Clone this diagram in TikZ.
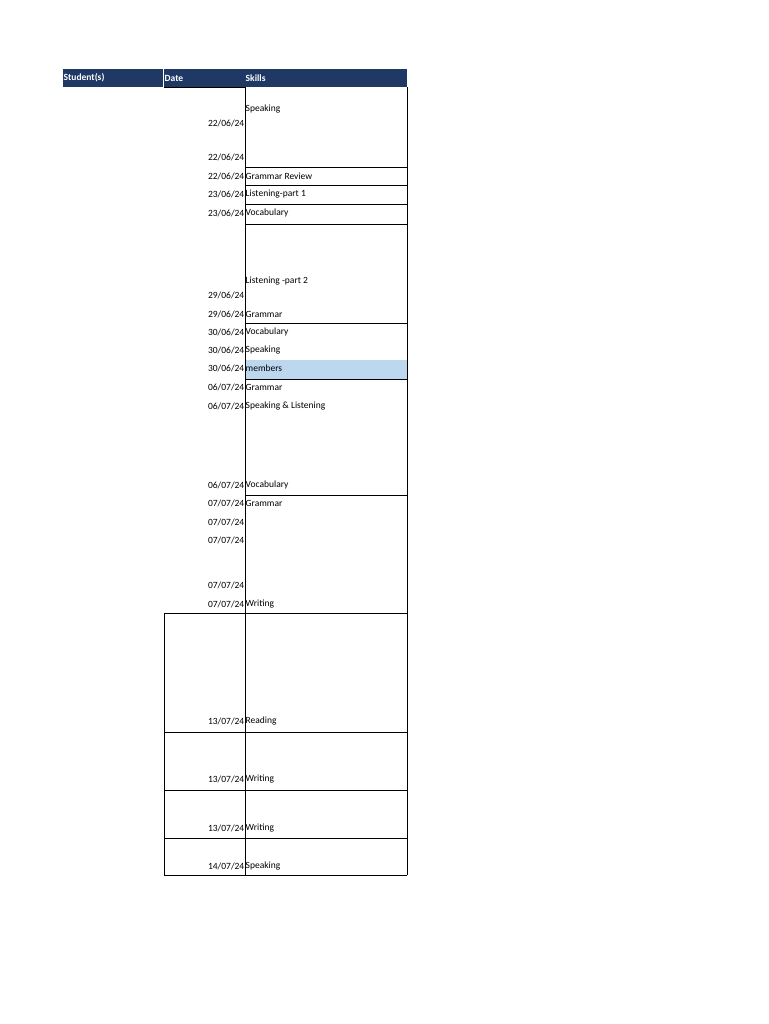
\documentclass[tikz,border=0pt]{standalone}
\usepackage{fontspec}
\setmainfont{Carlito}
\definecolor{hdr}{RGB}{31,56,100}
\definecolor{hl}{RGB}{189,215,238}
\begin{document}
\begin{tikzpicture}[x=1pt,y=-1pt,
  txt/.style={inner sep=0.5pt,font=\fontsize{9.5}{11}\selectfont},
  dt/.style={txt,anchor=east},
  sk/.style={txt,anchor=west},
  hd/.style={txt,anchor=west,text=white,font=\fontsize{9.5}{11}\selectfont\bfseries},
  rule/.style={line width=0.7pt}]
\useasboundingbox (0,0) rectangle (768,1024);
\fill[hdr] (63,69) rectangle (163,87);
\fill[hdr] (164,69) rectangle (407,87);
\fill[hl] (245,360) rectangle (407,379);
\draw[rule] (164,87) -- (245,87);
\draw[rule] (245,87) -- (245,875);
\draw[rule] (407,87) -- (407,875);
\draw[rule] (164,613) -- (164,875);
\foreach \y in {167,185,204,224,323,379,495} \draw[rule] (245,\y) -- (407,\y);
\foreach \y in {613,732,790,838,875} \draw[rule] (164,\y) -- (407,\y);
\node[hd] (h1) at (63,78) {Student(s)};
\node[hd] (h2) at (164,78) {Date};
\node[hd] (h3) at (245,78) {Skills};
\foreach \y/\d [count=\i] in {123/22\slash 06\slash 24,157/22\slash 06\slash 24,176/22\slash 06\slash 24,194/23\slash 06\slash 24,213/23\slash 06\slash 24,295/29\slash 06\slash 24,314/29\slash 06\slash 24,332/30\slash 06\slash 24,350/30\slash 06\slash 24,368/30\slash 06\slash 24,387/06\slash 07\slash 24,406/06\slash 07\slash 24,485/06\slash 07\slash 24,503/07\slash 07\slash 24,522/07\slash 07\slash 24,540/07\slash 07\slash 24,585/07\slash 07\slash 24,604/07\slash 07\slash 24,721/13\slash 07\slash 24,779/13\slash 07\slash 24,828/13\slash 07\slash 24,866/14\slash 07\slash 24}
  \node[dt] (d\i) at (245,\y) {\d};
\foreach \y/\s [count=\i] in {109/Speaking,176/Grammar Review,194/Listening-part 1,213/Vocabulary,281/Listening -part 2,314/Grammar,332/Vocabulary,350/Speaking,368/members,387/Grammar,406/Speaking \& Listening,485/Vocabulary,503/Grammar,604/Writing,721/Reading,779/Writing,828/Writing,866/Speaking}
  \node[sk] (s\i) at (245,\y) {\s};
\end{tikzpicture}
\end{document}
